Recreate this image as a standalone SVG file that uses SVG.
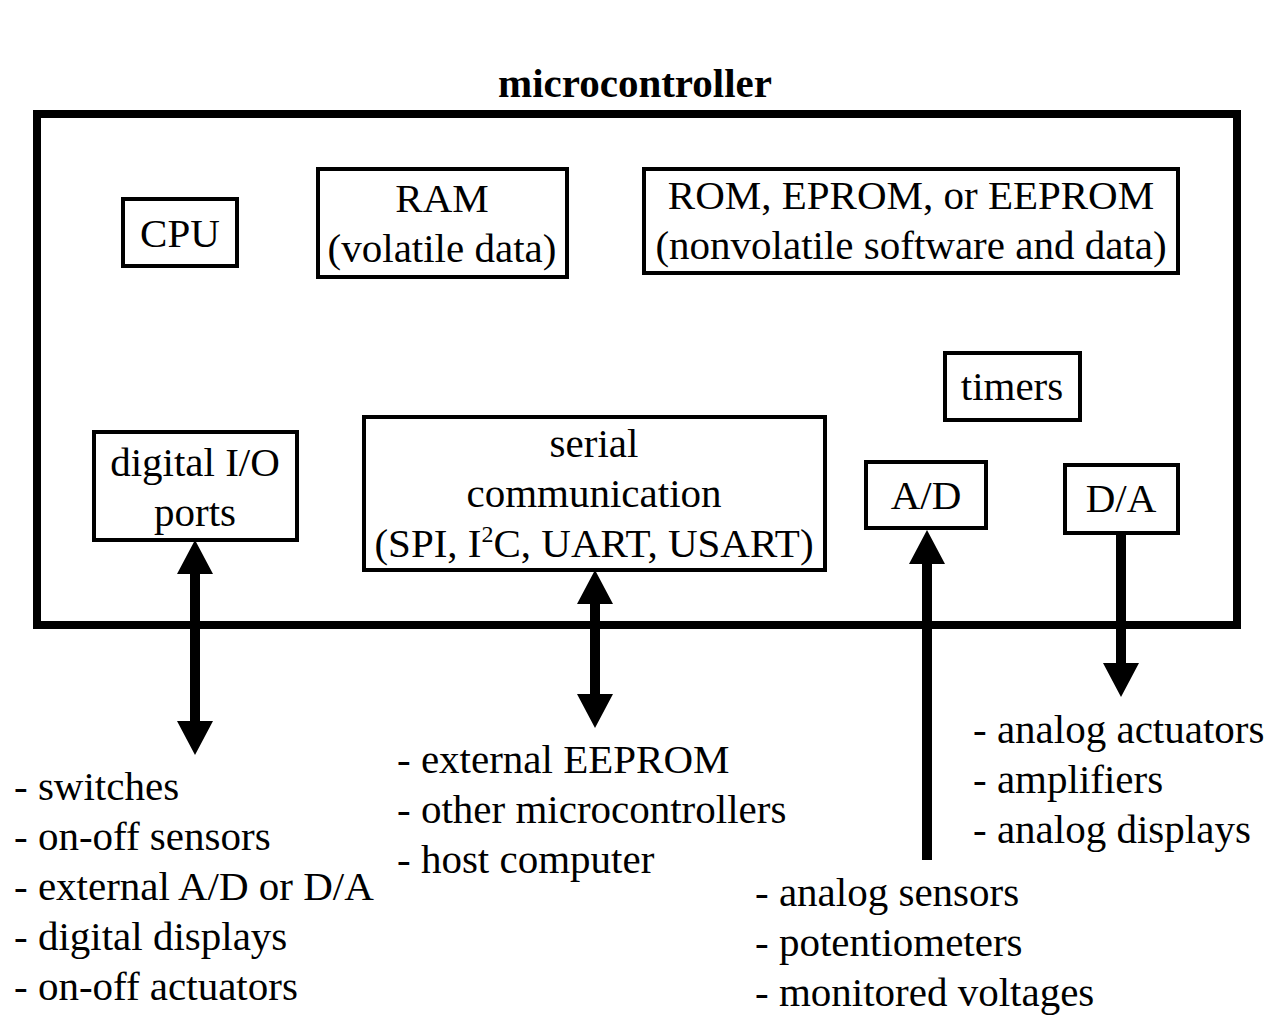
<svg xmlns="http://www.w3.org/2000/svg" width="1274" height="1034" viewBox="0 0 1274 1034">
<style>
text{font-family:"Liberation Serif","Times New Roman",serif;font-size:41px;fill:#000}
.c{text-anchor:middle}
.b{fill:none;stroke:#000;stroke-width:4}
.a{fill:#000}
</style>
<rect width="1274" height="1034" fill="#fff"/>
<g id="microcontroller">
<rect x="37" y="114" width="1200" height="511" fill="none" stroke="#000" stroke-width="8"/>
<text x="635" y="97" class="c" style="font-weight:bold">microcontroller</text>
</g>
<g id="cpu"><rect class="b" x="123" y="199" width="114" height="67"/><text x="180" y="247" class="c">CPU</text></g>
<g id="ram"><rect class="b" x="318" y="169" width="249" height="108"/><text x="442" y="212" class="c">RAM</text><text x="442" y="262" class="c">(volatile data)</text></g>
<g id="rom"><rect class="b" x="644" y="169" width="534" height="104"/><text x="911" y="209" class="c">ROM, EPROM, or EEPROM</text><text x="911" y="259" class="c">(nonvolatile software and data)</text></g>
<g id="timers"><rect class="b" x="945" y="353" width="135" height="67"/><text x="1012" y="400" class="c">timers</text></g>
<g id="dio"><rect class="b" x="94" y="432" width="203" height="108"/><text x="195" y="476" class="c">digital I/O</text><text x="195" y="526" class="c">ports</text></g>
<g id="serial"><rect class="b" x="364" y="417" width="461" height="153"/><text x="594" y="457" class="c">serial</text><text x="594" y="507" class="c">communication</text><text x="594" y="557" class="c">(SPI, I<tspan dy="-15" font-size="24">2</tspan><tspan dy="15">C, UART, USART)</tspan></text></g>
<g id="ad"><rect class="b" x="866" y="462" width="120" height="66"/><text x="926" y="509" class="c">A/D</text></g>
<g id="da"><rect class="b" x="1065" y="465" width="113" height="68"/><text x="1121" y="512" class="c">D/A</text></g>
<g id="connectors">
<polygon class="a" points="195,540 213,574 200,574 200,721 213,721 195,755 177,721 190,721 190,574 177,574"/>
<polygon class="a" points="595,570 613,604 600,604 600,694 613,694 595,728 577,694 590,694 590,604 577,604"/>
<polygon class="a" points="927,530 945,564 932,564 932,860 922,860 922,564 909,564"/>
<polygon class="a" points="1116,533 1126,533 1126,663 1139,663 1121,697 1103,663 1116,663"/>
</g>
<g id="lists">
<text x="14" y="800">- switches</text><text x="14" y="850">- on-off sensors</text><text x="14" y="900">- external A/D or D/A</text><text x="14" y="950">- digital displays</text><text x="14" y="1000">- on-off actuators</text>
<text x="397" y="773">- external EEPROM</text><text x="397" y="823">- other microcontrollers</text><text x="397" y="873">- host computer</text>
<text x="755" y="906">- analog sensors</text><text x="755" y="956">- potentiometers</text><text x="755" y="1006">- monitored voltages</text>
<text x="973" y="743">- analog actuators</text><text x="973" y="793">- amplifiers</text><text x="973" y="843">- analog displays</text>
</g>
</svg>
